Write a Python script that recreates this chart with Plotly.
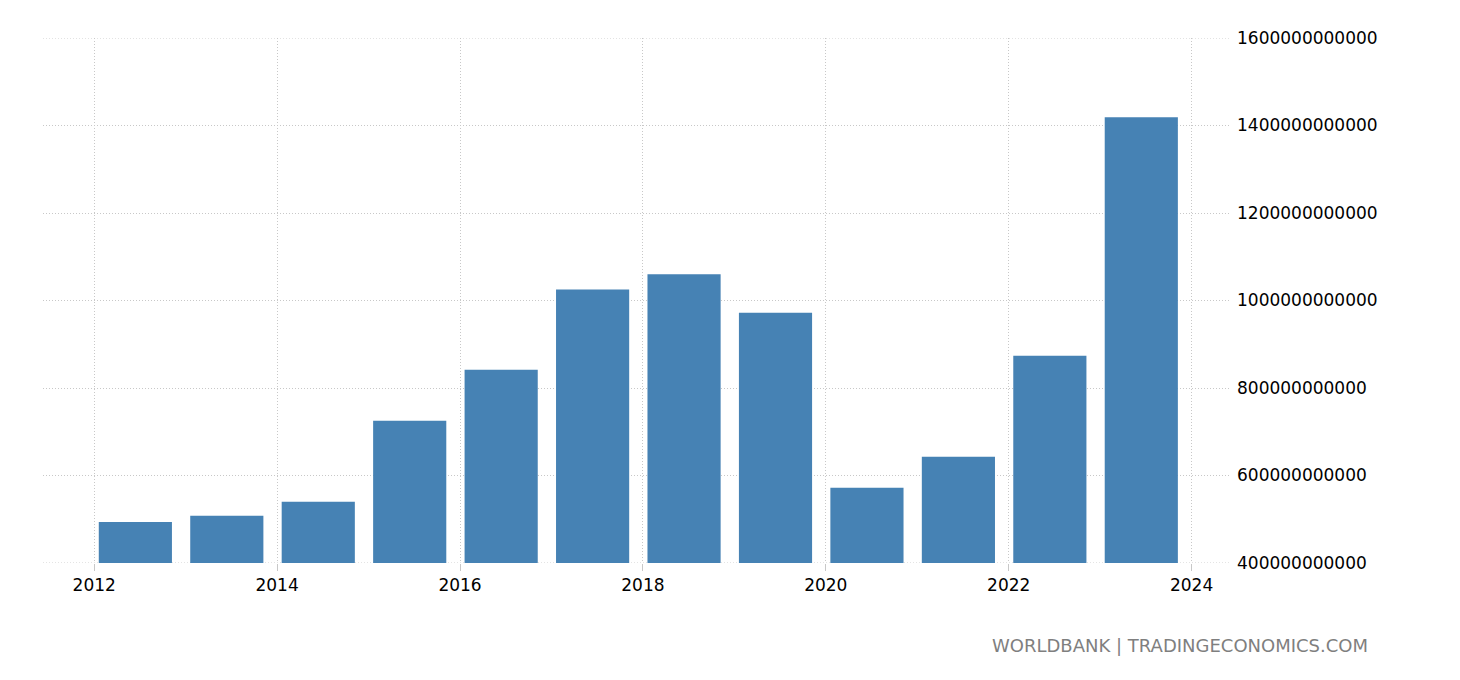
import plotly.graph_objects as go

years = [2012, 2013, 2014, 2015, 2016, 2017, 2018, 2019, 2020, 2021, 2022, 2023]
values = [494e9, 508e9, 540e9, 725e9, 842e9, 1025e9, 1060e9, 972e9, 572e9, 643e9, 874e9, 1419e9]
x_ticks = [2012, 2014, 2016, 2018, 2020, 2022, 2024]
y_ticks = [400e9, 600e9, 800e9, 1000e9, 1200e9, 1400e9, 1600e9]
y_labels = ["400000000000", "600000000000", "800000000000", "1000000000000",
            "1200000000000", "1400000000000", "1600000000000"]

bar_pos = [y + 0.45 for y in years]

fig = go.Figure()
fig.add_trace(go.Bar(x=bar_pos, y=values, marker=dict(color="#4682B4", line=dict(width=0)),
                     width=0.8))

grid = "#c8c8c8"
edge_lines = [dict(type="line", xref="paper", yref="y", x0=0, x1=1, y0=v, y1=v,
                   line=dict(color=grid, width=1, dash="1px,2px"), layer="below")
              for v in (y_ticks[0], y_ticks[-1])]

fig.update_layout(
    width=1460, height=680,
    margin=dict(l=43, r=230, t=38, b=117),
    paper_bgcolor="white", plot_bgcolor="white",
    showlegend=False,
    font=dict(family="DejaVu Sans", size=17, color="black"),
    xaxis=dict(range=[2011.44, 2024.42], tickvals=x_ticks, ticktext=[str(t) for t in x_ticks],
               showgrid=True, gridcolor=grid, griddash="1px,2px", gridwidth=1,
               zeroline=False, showline=False,
               ticks="outside", ticklen=7, tickcolor=grid, tickwidth=1),
    yaxis=dict(range=[400e9, 1600e9], side="right", tickvals=y_ticks, ticktext=y_labels,
               showgrid=True, gridcolor=grid, griddash="1px,2px", gridwidth=1,
               zeroline=False, showline=False, ticks="", ticklabelstandoff=6),
    shapes=edge_lines,
    annotations=[dict(text="WORLDBANK | TRADINGECONOMICS.COM", xref="paper", yref="paper",
                      x=(1370 - 43) / (1230 - 43), y=-(645 - 563) / (563 - 38), xanchor="right",
                      yanchor="middle", showarrow=False,
                      font=dict(family="DejaVu Sans", size=18, color="#7f7f7f"))],
)
fig.write_html("out.html")
